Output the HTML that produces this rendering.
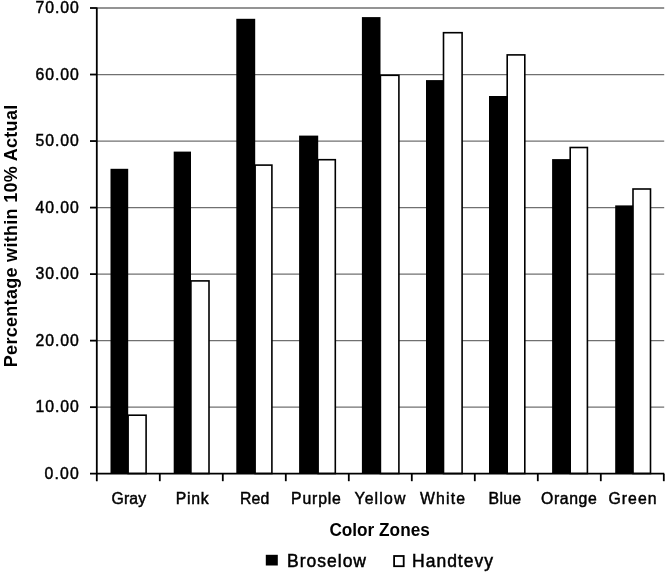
<!DOCTYPE html>
<html lang="en">
<head>
<meta charset="utf-8">
<title>Percentage within 10% Actual by Color Zones</title>
<style>
html,body{margin:0;padding:0;background:#fff;}
body{width:667px;height:573px;overflow:hidden;}
svg{display:block;}
text{font-family:"Liberation Sans",sans-serif;fill:#000;}
.t{font-size:15.8px;stroke:#000;stroke-width:0.45px;}
.b{font-size:18px;font-weight:bold;}
.l{font-size:17.5px;stroke:#000;stroke-width:0.5px;}
</style>
</head>
<body>
<svg width="667" height="573" viewBox="0 0 667 573">
<rect x="0" y="0" width="667" height="573" fill="#fff"/>
<g stroke="#707070" stroke-width="1.3">
<line x1="96.8" y1="407.17" x2="664.2" y2="407.17"/>
<line x1="96.8" y1="340.64" x2="664.2" y2="340.64"/>
<line x1="96.8" y1="274.11" x2="664.2" y2="274.11"/>
<line x1="96.8" y1="207.59" x2="664.2" y2="207.59"/>
<line x1="96.8" y1="141.06" x2="664.2" y2="141.06"/>
<line x1="96.8" y1="74.53" x2="664.2" y2="74.53"/>
<line x1="96.8" y1="8.00" x2="664.2" y2="8.00"/>
</g>
<g>
<rect x="128.10" y="415.20" width="18.00" height="58.30" fill="#fff" stroke="#000" stroke-width="1.6"/>
<rect x="110.50" y="168.80" width="17.70" height="304.90" fill="#000"/>
<rect x="190.90" y="280.90" width="18.10" height="192.60" fill="#fff" stroke="#000" stroke-width="1.6"/>
<rect x="173.70" y="151.60" width="17.30" height="322.10" fill="#000"/>
<rect x="255.10" y="165.10" width="16.80" height="308.40" fill="#fff" stroke="#000" stroke-width="1.6"/>
<rect x="236.30" y="18.80" width="18.90" height="454.90" fill="#000"/>
<rect x="318.10" y="159.70" width="17.20" height="313.80" fill="#fff" stroke="#000" stroke-width="1.6"/>
<rect x="299.10" y="135.60" width="19.10" height="338.10" fill="#000"/>
<rect x="380.40" y="75.30" width="18.50" height="398.20" fill="#fff" stroke="#000" stroke-width="1.6"/>
<rect x="361.90" y="17.10" width="18.60" height="456.60" fill="#000"/>
<rect x="443.50" y="32.70" width="18.60" height="440.80" fill="#fff" stroke="#000" stroke-width="1.6"/>
<rect x="426.00" y="80.10" width="17.60" height="393.60" fill="#000"/>
<rect x="507.20" y="54.90" width="17.60" height="418.60" fill="#fff" stroke="#000" stroke-width="1.6"/>
<rect x="489.00" y="96.00" width="18.30" height="377.70" fill="#000"/>
<rect x="570.20" y="147.50" width="17.20" height="326.00" fill="#fff" stroke="#000" stroke-width="1.6"/>
<rect x="552.10" y="159.10" width="18.20" height="314.60" fill="#000"/>
<rect x="633.00" y="189.00" width="17.50" height="284.50" fill="#fff" stroke="#000" stroke-width="1.6"/>
<rect x="615.20" y="205.40" width="17.90" height="268.30" fill="#000"/>
</g>
<g stroke="#000" stroke-width="1.8">
<line x1="96.8" y1="7.4" x2="96.8" y2="481.2"/>
<line x1="90" y1="473.7" x2="664.2" y2="473.7"/>
<line x1="90" y1="407.17" x2="96.8" y2="407.17"/>
<line x1="90" y1="340.64" x2="96.8" y2="340.64"/>
<line x1="90" y1="274.11" x2="96.8" y2="274.11"/>
<line x1="90" y1="207.59" x2="96.8" y2="207.59"/>
<line x1="90" y1="141.06" x2="96.8" y2="141.06"/>
<line x1="90" y1="74.53" x2="96.8" y2="74.53"/>
<line x1="90" y1="8.00" x2="96.8" y2="8.00"/>
<line x1="159.80" y1="473.7" x2="159.80" y2="481.2"/>
<line x1="222.80" y1="473.7" x2="222.80" y2="481.2"/>
<line x1="285.80" y1="473.7" x2="285.80" y2="481.2"/>
<line x1="348.80" y1="473.7" x2="348.80" y2="481.2"/>
<line x1="411.80" y1="473.7" x2="411.80" y2="481.2"/>
<line x1="474.80" y1="473.7" x2="474.80" y2="481.2"/>
<line x1="537.80" y1="473.7" x2="537.80" y2="481.2"/>
<line x1="600.80" y1="473.7" x2="600.80" y2="481.2"/>
<line x1="663.80" y1="473.7" x2="663.80" y2="481.2"/>
</g>
<g class="t">
<text x="44.4" y="479.00" textLength="34.4" lengthAdjust="spacing">0.00</text>
<text x="35.4" y="412.47" textLength="43.4" lengthAdjust="spacing">10.00</text>
<text x="35.4" y="345.94" textLength="43.4" lengthAdjust="spacing">20.00</text>
<text x="35.4" y="279.41" textLength="43.4" lengthAdjust="spacing">30.00</text>
<text x="35.4" y="212.89" textLength="43.4" lengthAdjust="spacing">40.00</text>
<text x="35.4" y="146.36" textLength="43.4" lengthAdjust="spacing">50.00</text>
<text x="35.4" y="79.83" textLength="43.4" lengthAdjust="spacing">60.00</text>
<text x="35.4" y="13.30" textLength="43.4" lengthAdjust="spacing">70.00</text>
</g>
<g class="t">
<text x="111.6" y="504.4" textLength="34.5" lengthAdjust="spacing">Gray</text>
<text x="175.8" y="504.4" textLength="32.9" lengthAdjust="spacing">Pink</text>
<text x="239.9" y="504.4" textLength="29.4" lengthAdjust="spacing">Red</text>
<text x="291.1" y="504.4" textLength="49.8" lengthAdjust="spacing">Purple</text>
<text x="354.4" y="504.4" textLength="50.9" lengthAdjust="spacing">Yellow</text>
<text x="420.0" y="504.4" textLength="45.0" lengthAdjust="spacing">White</text>
<text x="488.6" y="504.4" textLength="32.4" lengthAdjust="spacing">Blue</text>
<text x="541.1" y="504.4" textLength="55.7" lengthAdjust="spacing">Orange</text>
<text x="608.5" y="504.4" textLength="48.0" lengthAdjust="spacing">Green</text>
</g>
<text class="b" x="329.4" y="535.5" textLength="100.4" lengthAdjust="spacingAndGlyphs">Color Zones</text>
<text class="b" transform="translate(16.6,367.2) rotate(-90)" textLength="262.4" lengthAdjust="spacing">Percentage within 10% Actual</text>
<rect x="265.8" y="554.8" width="12" height="10.7" fill="#000"/>
<text class="l" x="287" y="566.5" textLength="79" lengthAdjust="spacing">Broselow</text>
<rect x="394.1" y="556.0" width="9.6" height="10.2" fill="#fff" stroke="#000" stroke-width="1.8"/>
<text class="l" x="412" y="566.5" textLength="81" lengthAdjust="spacing">Handtevy</text>
</svg>
</body>
</html>
